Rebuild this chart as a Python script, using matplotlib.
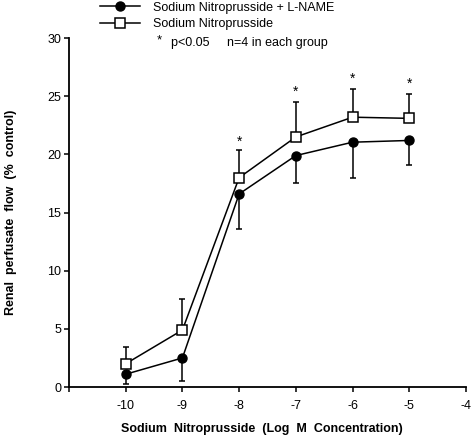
import numpy as np
import matplotlib
matplotlib.use("Agg")
import matplotlib.pyplot as plt

plt.rcParams['font.family'] = ['Liberation Sans', 'DejaVu Sans']
plt.rcParams['axes.unicode_minus'] = False

# log M concentration of sodium nitroprusside
conc = [-10, -9, -8, -7, -6, -5]

# Sodium Nitroprusside + L-NAME (filled circles), error shown below
snp_lname = [1.1, 2.5, 16.6, 19.9, 21.05, 21.2]
snp_lname_err = [0.8, 2.0, 3.0, 2.4, 3.1, 2.1]

# Sodium Nitroprusside alone (open squares), error shown above
snp = [2.0, 4.9, 18.0, 21.5, 23.2, 23.1]
snp_err = [1.4, 2.7, 2.4, 3.0, 2.4, 2.1]

# significance stars
sig_x = [-8, -7, -6, -5]
sig_y = [21.1, 25.4, 26.5, 26.1]

fig = plt.figure(figsize=(4.74, 4.38), dpi=100)
ax = fig.add_axes([0.1456, 0.1164, 0.8374, 0.7966])

zeros = [0] * len(conc)
ax.errorbar(conc, snp_lname, yerr=[snp_lname_err, zeros], fmt='none',
            ecolor='black', elinewidth=1.1, capsize=2.5, capthick=1.1, zorder=2)
ax.errorbar(conc, snp, yerr=[zeros, snp_err], fmt='none',
            ecolor='black', elinewidth=1.1, capsize=2.5, capthick=1.1, zorder=2)

ax.plot(conc, snp_lname, color='black', lw=1.1, marker='o', ms=6.5,
        mfc='black', mec='black', zorder=3)
ax.plot(conc, snp, color='black', lw=1.1, marker='s', ms=7,
        mfc='white', mec='black', mew=1.1, zorder=4)

for x, y in zip(sig_x, sig_y):
    ax.text(x, y, '*', ha='center', va='center', fontsize=10)

ax.set_xlim(-11, -4)
ax.set_ylim(0, 30)
ax.set_xticks([-10, -9, -8, -7, -6, -5, -4])
ax.set_xticks([-11], minor=True)
ax.set_yticks([0, 5, 10, 15, 20, 25, 30])
ax.tick_params(axis='both', direction='out', length=3.5, width=1.1,
               labelsize=9, pad=2)
ax.tick_params(axis='x', which='minor', length=3.5, width=1.1)
ax.tick_params(axis='x', pad=6)
ax.spines['top'].set_visible(False)
ax.spines['right'].set_visible(False)
ax.spines['left'].set_linewidth(1.3)
ax.spines['bottom'].set_linewidth(1.3)

ax.set_xlabel('Sodium  Nitroprusside  (Log  M  Concentration)',
              fontsize=9, fontweight='bold')
ax.xaxis.set_label_coords(0.486, -0.102)
ax.set_ylabel('Renal  perfusate  flow  (%  control)',
              fontsize=9, fontweight='bold', labelpad=22)

# legend drawn as figure items
fig.lines.append(plt.Line2D([100 / 474, 140 / 474], [1 - 6 / 438, 1 - 6 / 438],
                            transform=fig.transFigure, color='black', lw=1.1))
fig.lines.append(plt.Line2D([120 / 474], [1 - 6 / 438], transform=fig.transFigure,
                            color='black', marker='o', ms=6.5, ls='none'))
fig.lines.append(plt.Line2D([100 / 474, 140 / 474], [1 - 23 / 438, 1 - 23 / 438],
                            transform=fig.transFigure, color='black', lw=1.1))
fig.lines.append(plt.Line2D([120 / 474], [1 - 23 / 438], transform=fig.transFigure,
                            color='black', marker='s', ms=7, mfc='white',
                            mew=1.1, ls='none'))
fig.text(153 / 474, 1 - 8 / 438, 'Sodium Nitroprusside + L-NAME',
         fontsize=9, va='center')
fig.text(153 / 474, 1 - 24 / 438, 'Sodium Nitroprusside',
         fontsize=9, va='center')
fig.text(157 / 474, 1 - 40 / 438, '*', fontsize=9.5, va='center')
fig.text(171 / 474, 1 - 43 / 438, 'p<0.05     n=4 in each group',
         fontsize=9, va='center')

fig.savefig('out.png', dpi=100)
